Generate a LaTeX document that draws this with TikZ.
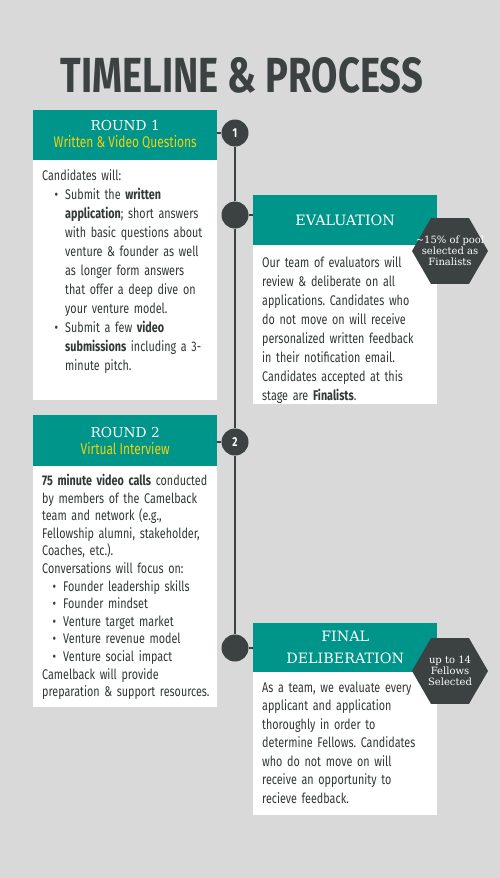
\documentclass[tikz,border=0pt]{standalone}
\usepackage{fontspec}
\usepackage{graphicx}
\usepackage{enumitem}
\usetikzlibrary{shapes.geometric}
\setmainfont{Fira Sans}[FakeStretch=0.77]
\newfontfamily\slabfont{DejaVu Serif}
\newfontfamily\titlefont{Fira Sans}
\definecolor{camteal}{HTML}{00958A}
\definecolor{camyellow}{HTML}{F2D20A}
\definecolor{camdark}{HTML}{3C4242}
\definecolor{camtext}{HTML}{313837}
\definecolor{cambg}{HTML}{D9D9D9}
\setlist[itemize]{leftmargin=23pt,labelsep=7pt,topsep=0pt,partopsep=0pt,itemsep=0pt,parsep=0pt}
\newcommand{\subhead}{\normalfont\fontsize{15.5}{17}\selectfont\color{camyellow}}
\frenchspacing

\begin{document}
\begin{tikzpicture}[
  x=1pt, y=-1pt,
  head/.style={fill=camteal, minimum width=184pt, minimum height=50pt,
               inner sep=0pt, anchor=north west, align=center, text=white,
               font=\slabfont\fontsize{13.7}{17}\selectfont},
  card/.style={fill=white, minimum width=184pt, inner sep=0pt, anchor=north west},
  bodytxt/.style={anchor=north west, inner sep=0pt, text width=190pt, align=left,
                  text=camtext, font=\fontsize{14}{19}\selectfont},
  dot/.style={circle, fill=camdark, minimum size=27pt, inner sep=0pt,
              text=white, font=\bfseries\fontsize{13}{13}\selectfont},
  spine/.style={camdark, line width=2pt},
  badge/.style={regular polygon, regular polygon sides=6, minimum size=76pt,
                fill=camdark, inner sep=0pt},
  badgetxt/.style={text=white, align=center, inner sep=0pt,
                   font=\slabfont\fontsize{10}{11}\selectfont},
]

% Background and title
\fill[cambg] (0,0) rectangle (500,878);
\useasboundingbox (0,0) rectangle (500,878);
\node[text=camdark] (title) at (242,75)
  {\resizebox{362pt}{35pt}{\titlefont\bfseries TIMELINE \& PROCESS}};

% Timeline dots
\node[dot] (dot1) at (235,133) {1};
\node[dot] (dotev) at (235,215) {};
\node[dot] (dot2) at (235,442) {2};
\node[dot] (dotfin) at (235,648) {};

% Spine -- segment by segment so the dots stay on top
\draw[spine] (dot1) -- (dotev);
\draw[spine] (dotev) -- (dot2);
\draw[spine] (dot2) -- (dotfin);

% Round 1
\node[head] (r1head) at (33,110)
  {ROUND 1\\{\subhead Written \& Video Questions}};
\node[card, minimum height=240pt] (r1card) at (33,160) {};
\node[bodytxt] (r1txt) at (42,169) {\rule{0pt}{11pt}Candidates will:
  \begin{itemize}
  \item Submit the \textbf{written}\\
    \textbf{application}; short answers\\
    with basic questions about\\
    venture \& founder as well\\
    as longer form answers\\
    that offer a deep dive on\\
    your venture model.
  \item Submit a few \textbf{video}\\
    \textbf{submissions} including a 3-\\
    minute pitch.
  \end{itemize}};
\draw[spine] (dot1) -- (r1head.east |- dot1);

% Evaluation
\node[head, font=\slabfont\fontsize{14.3}{17}\selectfont] (evhead) at (253,195) {EVALUATION};
\node[card, minimum height=159pt] (evcard) at (253,245) {};
\node[bodytxt] (evtxt) at (262,256) {\rule{0pt}{11pt}Our team of evaluators will\\
  review \& deliberate on all\\
  applications. Candidates who\\
  do not move on will receive\\
  personalized written feedback\\
  in their notification email.\\
  Candidates accepted at this\\
  stage are \textbf{Finalists}.};
\draw[spine] (dotev) -- (evhead.west |- dotev);

% Round 2
\node[head, minimum height=51pt] (r2head) at (33,415)
  {ROUND 2\\{\subhead Virtual Interview}};
\node[card, minimum height=241pt] (r2card) at (33,466) {};
\node[bodytxt, font=\fontsize{14}{17.6}\selectfont] (r2txt) at (42,474)
  {\rule{0pt}{11pt}\textbf{75 minute video calls} conducted\\
  by members of the Camelback\\
  team and network (e.g.,\\
  Fellowship alumni, stakeholder,\\
  Coaches, etc.).\\
  Conversations will focus on:
  \begin{itemize}[leftmargin=21pt]
  \item Founder leadership skills
  \item Founder mindset
  \item Venture target market
  \item Venture revenue model
  \item Venture social impact
  \end{itemize}
  Camelback will provide\\
  preparation \& support resources.};
\draw[spine] (dot2) -- (r2head.east |- dot2);

% Final deliberation
\node[head, minimum height=49pt, font=\slabfont\fontsize{14.3}{22}\selectfont]
  (finhead) at (253,623) {FINAL\\DELIBERATION};
\node[card, minimum height=143pt] (fincard) at (253,672) {};
\node[bodytxt, font=\fontsize{14}{18.5}\selectfont] (fintxt) at (262,681)
  {\rule{0pt}{11pt}As a team, we evaluate every\\
  applicant and application\\
  thoroughly in order to\\
  determine Fellows. Candidates\\
  who do not move on will\\
  receive an opportunity to\\
  recieve feedback.};
\draw[spine] (dotfin) -- (finhead.west |- dotfin);

% Badges
\node[badge] (hex1) at (450,251) {};
\node[badgetxt] (hex1txt) at (hex1.center)
  {\textasciitilde15\% of pool\\selected as\\Finalists};
\node[badge] (hex2) at (450,671) {};
\node[badgetxt] (hex2txt) at (hex2.center)
  {up to 14\\Fellows\\Selected};

\end{tikzpicture}
\end{document}
